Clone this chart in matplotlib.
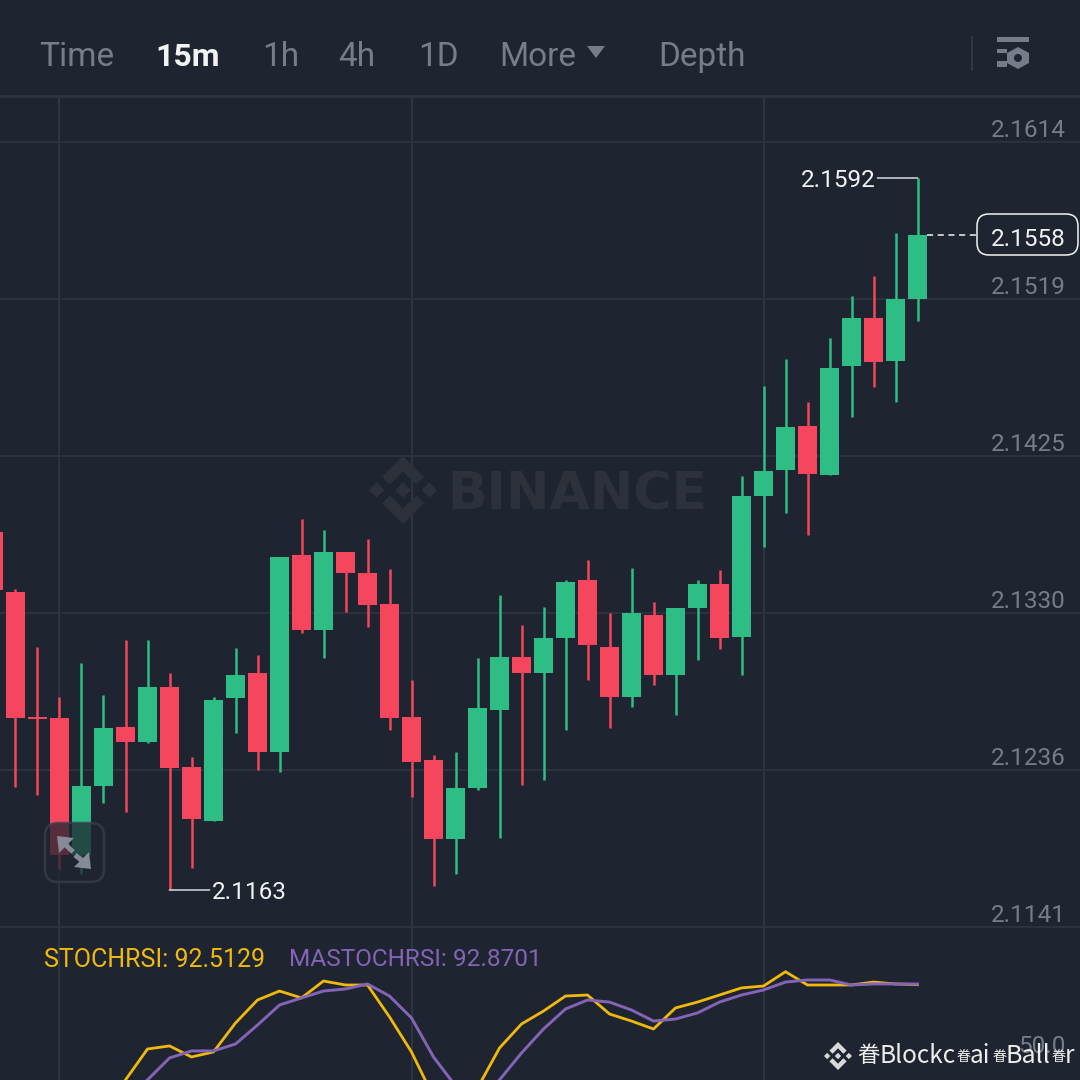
import matplotlib
matplotlib.use('Agg')
import matplotlib.pyplot as plt
from matplotlib.patches import FancyBboxPatch, Polygon, Circle

plt.rcParams['font.family'] = ['Roboto', 'DejaVu Sans']

# candles, oldest first (one every 15m)
opens = [2.13790, 2.13429, 2.12675, 2.12669, 2.11844, 2.12260, 2.12615, 2.12525, 2.12856, 2.12374, 2.12049,
         2.12790, 2.12940, 2.12464, 2.13651, 2.13200, 2.13670, 2.13543, 2.13356, 2.12675, 2.12416, 2.11940,
         2.12248, 2.12718, 2.13037, 2.12940, 2.13151, 2.13501, 2.13097, 2.12796, 2.13290, 2.12928, 2.13332,
         2.13477, 2.13157, 2.14007, 2.14164, 2.14429, 2.14134, 2.14790, 2.15080, 2.14820, 2.15194]
closes = [2.13441, 2.12669, 2.12663, 2.11844, 2.12260, 2.12609, 2.12525, 2.12856, 2.12368, 2.12061, 2.12778,
          2.12928, 2.12464, 2.13639, 2.13200, 2.13670, 2.13543, 2.13350, 2.12669, 2.12404, 2.11940, 2.12248,
          2.12730, 2.13037, 2.12940, 2.13151, 2.13489, 2.13109, 2.12796, 2.13302, 2.12928, 2.13332, 2.13477,
          2.13151, 2.14007, 2.14158, 2.14423, 2.14140, 2.14778, 2.15080, 2.14814, 2.15194, 2.15580]
highs = [2.13790, 2.13447, 2.13097, 2.12796, 2.13001, 2.12808, 2.13139, 2.13139, 2.12940, 2.12434, 2.12796,
         2.13091, 2.13049, 2.13639, 2.13868, 2.13802, 2.13670, 2.13748, 2.13567, 2.12898, 2.12446, 2.12464,
         2.13031, 2.13410, 2.13230, 2.13338, 2.13501, 2.13621, 2.13302, 2.13573, 2.13368, 2.13332, 2.13501,
         2.13561, 2.14127, 2.14670, 2.14832, 2.14573, 2.14959, 2.15212, 2.15333, 2.15592, 2.15923]
lows = [2.13441, 2.12254, 2.12205, 2.11760, 2.11729, 2.12157, 2.12103, 2.12519, 2.11633, 2.11766, 2.12049,
        2.12579, 2.12356, 2.12344, 2.13181, 2.13031, 2.13308, 2.13218, 2.12597, 2.12193, 2.11657, 2.11729,
        2.12235, 2.11946, 2.12266, 2.12296, 2.12597, 2.12898, 2.12609, 2.12736, 2.12868, 2.12687, 2.13019,
        2.13085, 2.12928, 2.13700, 2.13905, 2.13772, 2.14134, 2.14483, 2.14664, 2.14573, 2.15061]

# stoch rsi, starts at candle 6
stoch_start = 6
stochrsi = [37.3, 55.2, 57.0, 50.6, 53.5, 70.3, 83.6, 88.8, 84.8, 94.6, 92.3, 92.3, 73.8, 53.5, 27.4, 19.9, 32.6,
            55.8, 69.7, 77.2, 85.9, 86.5, 75.5, 71.4, 66.8, 79.0, 82.4, 86.5, 90.6, 91.7, 100.0, 92.3, 92.3, 92.3,
            94.0, 92.9, 92.5129]
mastochrsi = [25.7, 37.3, 50.0, 54.1, 54.1, 58.1, 69.1, 80.7, 84.8, 88.8, 90.0, 92.9, 85.9, 73.2, 50.6, 33.8, 25.7,
              37.3, 52.9, 66.8, 78.4, 83.6, 82.4, 77.8, 71.4, 72.6, 76.1, 82.4, 86.5, 89.4, 94.0, 95.2, 95.2, 92.3,
              92.9, 92.9, 92.8701]

price_ticks = [2.16140, 2.15194, 2.14248, 2.13302, 2.12356, 2.11410]
time_ticks = [3, 19, 35]
tabs = ['Time', '15m', '1h', '4h', '1D', 'More', 'Depth']
tab_x = [39, 155, 262, 338, 418, 499, 658]

BG = '#1f2530'
GRID = '#2e343f'
GREEN = '#2ebd85'
RED = '#f6465d'
GREY = '#767d8a'
YELLOW = '#f0b90b'
PURPLE = '#8364b8'
WHITE = '#f2f3f5'

fig = plt.figure(figsize=(10.8, 10.8), dpi=100, facecolor=BG)
ax = fig.add_axes([0, (1080 - 927) / 1080, 1, (927 - 97) / 1080], facecolor=BG)
ind = fig.add_axes([0, 0, 1, (1080 - 927) / 1080], facecolor=BG)
ui = fig.add_axes([0, 0, 1, 1], facecolor='none')
ui.set_xlim(0, 1080)
ui.set_ylim(1080, 0)
ui.axis('off')

# main chart
idx = list(range(len(opens)))
colors = [GREEN if c >= o else RED for o, c in zip(opens, closes)]
ax.vlines(idx, lows, highs, colors=colors, lw=1.8, zorder=3)
bottoms = [min(o, c) for o, c in zip(opens, closes)]
heights = [abs(c - o) for o, c in zip(opens, closes)]
ax.bar(idx, heights, bottom=bottoms, width=0.88, color=colors, zorder=4)

for a in (ax, ind):
    a.set_xlim(0.2955, 49.386)
    a.set_xticks(time_ticks)
    a.tick_params(length=0, labelbottom=False, labelleft=False)
    a.grid(axis='x', color='#323844', lw=1.2)
    a.set_axisbelow(True)
    for s in a.spines.values():
        s.set_visible(False)

ax.set_ylim(2.11410, 2.16411)
ax.set_yticks(price_ticks)
ax.grid(axis='y', color=GRID, lw=1.3)
for p in price_ticks:
    ax.annotate(f'{p:.4f}', xy=(1066 / 1080, p), xycoords=ax.get_yaxis_transform(), xytext=(0, 11),
                textcoords='offset pixels', ha='right', va='center', color=GREY, fontsize=17.5)

# high / low markers
hi = highs.index(max(highs))
lo = lows.index(min(lows))
line_style = dict(arrowstyle='-', color='#c9ccd2', lw=1.2, shrinkA=0, shrinkB=0)
ax.annotate('', xy=(hi, highs[hi]), xytext=(-40, 0), textcoords='offset pixels', arrowprops=line_style)
ax.annotate(f'{highs[hi]:.4f}', xy=(hi, highs[hi]), xytext=(-42, -3), textcoords='offset pixels', ha='right',
            va='center', color=WHITE, fontsize=17.5)
ax.annotate('', xy=(lo, lows[lo]), xytext=(40, 0), textcoords='offset pixels', arrowprops=line_style)
ax.annotate(f'{lows[lo]:.4f}', xy=(lo, lows[lo]), xytext=(42, -3), textcoords='offset pixels', ha='left',
            va='center', color=WHITE, fontsize=17.5)

# last price
ax.hlines(closes[-1], idx[-1] + 0.44, 44.7, color=WHITE, lw=1.1, linestyles=(0, (4, 3)), zorder=3)
ui.add_patch(FancyBboxPatch((977, 214), 101, 41, boxstyle='round,pad=0,rounding_size=12', fc=BG, ec=WHITE, lw=1.1))
ui.text(1066, 240, f'{closes[-1]:.4f}', color=WHITE, fontsize=17.5, ha='right', va='center')

# indicator
ind.plot(idx[stoch_start:], stochrsi, color=YELLOW, lw=2, zorder=3)
ind.plot(idx[stoch_start:], mastochrsi, color=PURPLE, lw=2.1, zorder=4)
ind.set_ylim(37.25, 125.9)
ind.annotate('50.0', xy=(1066 / 1080, 50), xycoords=ind.get_yaxis_transform(), xytext=(0, 11),
             textcoords='offset pixels', ha='right', va='center', color=GREY, fontsize=17.5)
ui.text(44, 960, f'STOCHRSI: {stochrsi[-1]:.4f}', color=YELLOW, fontsize=18, va='center')
ui.text(289, 960, f'MASTOCHRSI: {mastochrsi[-1]:.4f}', color=PURPLE, fontsize=17.6, va='center')
ui.plot([0, 1080], [927, 927], color=GRID, lw=1.3)

# header
ui.plot([0, 1080], [95.5, 95.5], color=GRID, lw=2)
for name, x in zip(tabs, tab_x):
    active = name == '15m'
    ui.text(x, 57, name, color=WHITE if active else GREY, fontsize=23 if active else 24, va='center',
            fontweight='bold' if active else 'normal')
ui.add_patch(Polygon([(587, 46), (605, 46), (596, 58)], fc=GREY, ec='none'))
ui.plot([972, 972], [37, 70], color='#353b47', lw=1.2)
ui.add_patch(Polygon([(997, 37), (1029, 37), (1029, 42), (997, 42)], fc=GREY, ec='none'))
for y0, y1 in [(49, 53), (61, 67)]:
    ui.add_patch(Polygon([(997, y0), (1007, y0), (1007, y1), (997, y1)], fc=GREY, ec='none'))
ui.add_patch(Polygon([(1018, 47), (1029, 53), (1029, 63), (1018, 69), (1007, 63), (1007, 53)], fc=GREY, ec='none'))
ui.add_patch(Circle((1018, 58), 4, fc=BG, ec='none'))


def binance_logo(cx, cy, r, color, z=1):
    s = r / 63.31
    shapes = [
        [(38.73, 53.2), (63.32, 28.62), (87.92, 53.22), (102.22, 38.91), (63.32, 0), (24.43, 38.9)],
        [(38.73, 73.42), (63.32, 98.0), (87.92, 73.4), (102.22, 87.71), (63.32, 126.62), (24.43, 87.72)],
        [(0, 63.31), (14.3, 49), (28.61, 63.31), (14.3, 77.61)],
        [(98.01, 63.31), (112.31, 49), (126.62, 63.31), (112.31, 77.61)],
        [(63.31, 48.8), (77.82, 63.31), (63.31, 77.82), (48.8, 63.31)],
    ]
    for pts in shapes:
        ui.add_patch(Polygon([(cx + (a - 63.31) * s, cy + (b - 63.31) * s) for a, b in pts], fc=color, ec='none', zorder=z))


# watermark
binance_logo(403, 490, 34, '#2c313c')
ui.text(447, 495, 'BINANCE', color='#2c313c', fontsize=37.5, fontweight='bold', va='center', family='DejaVu Sans')

# expand button
ui.add_patch(FancyBboxPatch((45, 823), 59, 59, boxstyle='round,pad=0,rounding_size=13', fc=BG, ec='#3a404b',
                            lw=1.8, alpha=0.75))
ui.add_patch(Polygon([(57, 836), (74, 838), (59, 853)], fc='#868b95', ec='none'))
ui.plot([63, 73], [842, 852], color='#868b95', lw=3.6, solid_capstyle='butt')
ui.add_patch(Polygon([(91, 869), (74, 867), (89, 852)], fc='#868b95', ec='none'))
ui.plot([85, 75], [863, 855], color='#868b95', lw=3.6, solid_capstyle='butt')

# repost mark, its text is broken up by stray glyphs in the picture
binance_logo(838, 1056, 14, '#d9d9d9', z=6)
cjk = ['Noto Sans CJK SC', 'DejaVu Sans']
for txt, x, size in [('眷', 857, 16), ('Blockc', 879, 17.5), ('ai', 970, 17.5), ('Ball', 1006, 18), ('r', 1065, 17.5)]:
    ui.text(x, 1056, txt, color='#eeeeee', fontsize=size, va='center', zorder=6, family=cjk)
for x in [963, 999, 1058]:
    ui.text(x, 1057, '眷', color='#eeeeee', fontsize=10, ha='center', va='center', zorder=6, family=cjk)

fig.savefig('out.png', dpi=100, facecolor=BG)
